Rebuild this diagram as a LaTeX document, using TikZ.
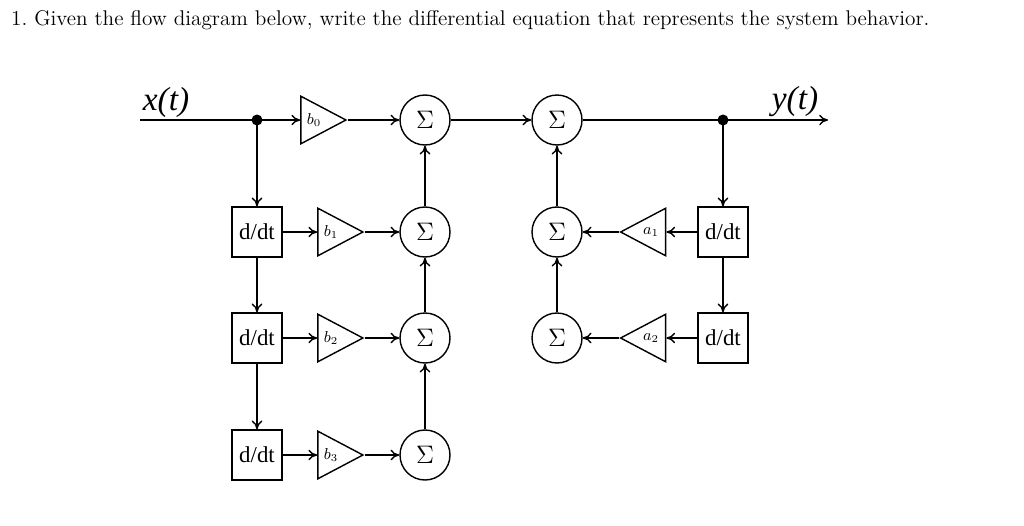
\documentclass[tikz,border=0pt]{standalone}
\usepackage{fontspec}
\newfontfamily\tms{Liberation Serif}
\usetikzlibrary{shapes.geometric, arrows.meta}
\tikzset{
	sum/.style={circle, draw, thick, minimum size=1cm, inner sep=0pt, font=\Large},
	ddt/.style={rectangle, draw, thick, minimum size=1cm, font=\tms\fontsize{13}{13}\selectfont},
	gain/.style={isosceles triangle, draw, thick, isosceles triangle stretches,
		minimum width=0.95cm, minimum height=0.9cm, inner sep=0pt, font=\tms\itshape\fontsize{9}{9}\selectfont},
	sig/.style={thick, -{To[length=5pt, width=6pt]}},
}
\begin{document}
\begin{tikzpicture}[x=0.02cm, y=-0.02cm]
		\useasboundingbox (0,0) rectangle (1024,525);
		\node[anchor=west, font=\fontsize{12.1}{14}\selectfont] (title) at (5,20) {1.\ Given the flow diagram below, write the differential equation that represents the system behavior.};
		% summing junctions
		\foreach \y [count=\i from 0] in {120,232,338,455}
		{
			\node[sum] (sb\i) at (425,\y) {$\Sigma$};
		}
		\foreach \y [count=\i from 0] in {120,232,338}
		{
			\node[sum] (sa\i) at (557,\y) {$\Sigma$};
		}
		% derivative blocks
		\foreach \y [count=\i from 1] in {232,338,455}
		{
			\node[ddt] (db\i) at (257,\y) {d/dt};
		}
		\foreach \y [count=\i from 1] in {232,338}
		{
			\node[ddt] (da\i) at (723,\y) {d/dt};
		}
		% gains
		\node[gain] (b0) at (314,120) {$b_0$};
		\foreach \i in {1,2,3}
		{
			\node[gain] (b\i) at (331,\ifcase\i\or232\or338\else455\fi) {$b_\i$};
		}
		\foreach \i in {1,2}
		{
			\node[gain, shape border rotate=180] (a\i) at (651,\ifcase\i\or232\else338\fi) {$a_\i$};
		}
		% input and output
		\coordinate (xin) at (140,120);
		\coordinate (xsplit) at (257,120);
		\coordinate (ysplit) at (723,120);
		\coordinate (yout) at (828,120);
		\fill (xsplit) circle (5.5);
		\fill (ysplit) circle (5.5);
		\node[font=\tms\itshape\fontsize{19}{19}\selectfont] (xlab) at (166,102) {x(t)};
		\node[font=\tms\itshape\fontsize{19}{19}\selectfont] (ylab) at (795,102) {y(t)};
		% forward path
		\draw[thick] (xin) -- (xsplit);
		\draw[sig] (xsplit) -- (b0.lower side);
		\draw[sig] (b0.apex) -- (sb0);
		\draw[sig] (sb0) -- (sa0);
		\draw[thick] (sa0) -- (ysplit);
		\draw[sig] (ysplit) -- (yout);
		% input derivatives
		\draw[sig] (xsplit) -- (db1);
		\draw[sig] (db1) -- (db2);
		\draw[sig] (db2) -- (db3);
		\foreach \i in {1,2,3}
		{
			\draw[sig] (db\i) -- (b\i.lower side);
			\draw[sig] (b\i.apex) -- (sb\i);
		}
		\draw[sig] (sb1) -- (sb0);
		\draw[sig] (sb2) -- (sb1);
		\draw[sig] (sb3) -- (sb2);
		% output derivatives
		\draw[sig] (ysplit) -- (da1);
		\draw[sig] (da1) -- (da2);
		\foreach \i in {1,2}
		{
			\draw[sig] (da\i) -- (a\i.lower side);
			\draw[sig] (a\i.apex) -- (sa\i);
		}
		\draw[sig] (sa1) -- (sa0);
		\draw[sig] (sa2) -- (sa1);
	\end{tikzpicture}
\end{document}
